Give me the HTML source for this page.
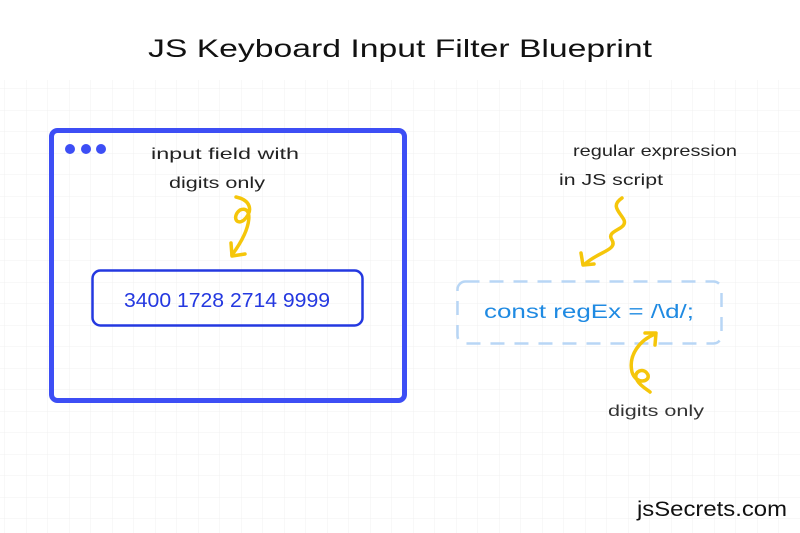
<!DOCTYPE html>
<html><head><meta charset="utf-8"><style>
html,body{margin:0;padding:0;background:#fff;}
svg{display:block;}
text{font-family:"Liberation Sans",sans-serif;}
</style></head><body>
<svg width="800" height="533" viewBox="0 0 800 533" xmlns="http://www.w3.org/2000/svg">
<defs>
<pattern id="g" width="21.5" height="21.5" patternUnits="userSpaceOnUse" x="5" y="3">
<path d="M21.5 0V21.5M0 21.5H21.5" fill="none" stroke="#f0f0f0" stroke-width="1"/>
</pattern>
</defs>
<rect width="800" height="533" fill="#fff"/>
<rect x="0" y="80" width="800" height="453" fill="url(#g)"/>
<text x="400" y="57" text-anchor="middle" font-size="25" fill="#111" textLength="504" lengthAdjust="spacingAndGlyphs">JS Keyboard Input Filter Blueprint</text>

<rect x="51.5" y="130.5" width="353" height="270" rx="6" fill="none" stroke="#3d4ef5" stroke-width="5"/>
<circle cx="70" cy="149" r="5" fill="#3d4ef5"/>
<circle cx="86" cy="149" r="5" fill="#3d4ef5"/>
<circle cx="101" cy="149" r="5" fill="#3d4ef5"/>
<text x="225" y="159" text-anchor="middle" font-size="16" fill="#222" textLength="148" lengthAdjust="spacingAndGlyphs">input field with</text>
<text x="217" y="188" text-anchor="middle" font-size="16" fill="#222" textLength="96" lengthAdjust="spacingAndGlyphs">digits only</text>
<path d="M236 197 C250 200 254 210 244 220 C236 226 232 216 240 210 C252 205 254 225 232 255" fill="none" stroke="#f5c60a" stroke-width="3.5" stroke-linecap="round"/>
<path d="M231 243 L232 256 L245 254" fill="none" stroke="#f5c60a" stroke-width="3.5" stroke-linecap="round" stroke-linejoin="round"/>
<rect x="92.5" y="270.5" width="270" height="55" rx="8" fill="none" stroke="#2438e0" stroke-width="2.5"/>
<text x="227" y="307" text-anchor="middle" font-size="20" fill="#2438e0" textLength="206" lengthAdjust="spacingAndGlyphs">3400 1728 2714 9999</text>

<text x="655" y="156" text-anchor="middle" font-size="16" fill="#222" textLength="164" lengthAdjust="spacingAndGlyphs">regular expression</text>
<text x="611" y="185" text-anchor="middle" font-size="16" fill="#222" textLength="104" lengthAdjust="spacingAndGlyphs">in JS script</text>
<path d="M622 198 C610 206 620 212 624 220 C628 230 605 230 612 240 C618 250 598 252 585 264" fill="none" stroke="#f5c60a" stroke-width="3.5" stroke-linecap="round"/>
<path d="M581 253 L583 265 L594 264" fill="none" stroke="#f5c60a" stroke-width="3.5" stroke-linecap="round" stroke-linejoin="round"/>
<rect x="457.5" y="281.5" width="264" height="62" rx="8" fill="none" stroke="#b8d6f5" stroke-width="2.5" stroke-dasharray="14 10"/>
<text x="589" y="318" text-anchor="middle" font-size="19" fill="#1f8ae2" textLength="210" lengthAdjust="spacingAndGlyphs">const regEx = /\d/;</text>
<path d="M655 334 C640 340 628 355 632 372 C636 385 650 382 648 375 C644 366 632 372 637 380 C640 386 648 390 650 392" fill="none" stroke="#f5c60a" stroke-width="3.5" stroke-linecap="round"/>
<path d="M645 333 L656 333 L655 345" fill="none" stroke="#f5c60a" stroke-width="3.5" stroke-linecap="round" stroke-linejoin="round"/>
<text x="656" y="416" text-anchor="middle" font-size="16" fill="#333" textLength="96" lengthAdjust="spacingAndGlyphs">digits only</text>

<text x="787" y="516" text-anchor="end" font-size="21" fill="#111" textLength="150" lengthAdjust="spacingAndGlyphs">jsSecrets.com</text>
</svg>
</body></html>
